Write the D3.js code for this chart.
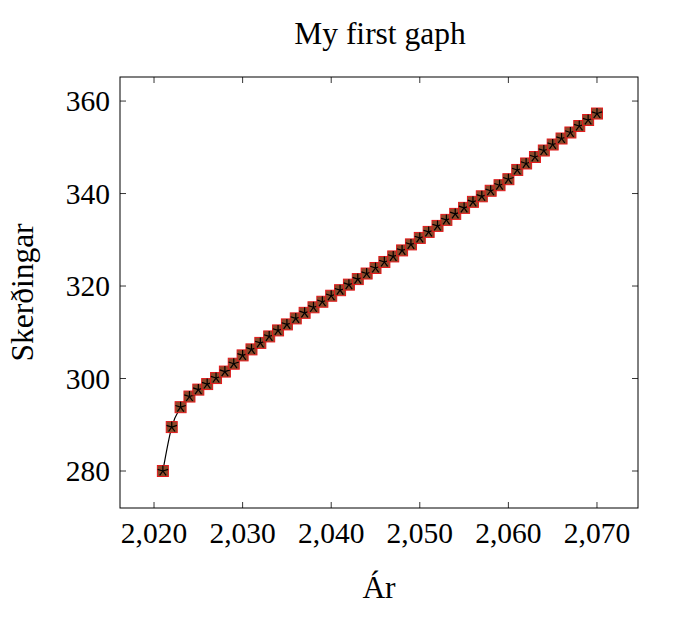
<!DOCTYPE html>
<html><head><meta charset="utf-8">
<script src="https://cdn.jsdelivr.net/npm/d3@7"></script>
<style>body{margin:0;background:#fff}text{font-family:"Liberation Serif","Times New Roman",serif;fill:#000}</style>
</head><body><svg id="c" width="695" height="619"></svg>
<script>
var years = d3.range(2021, 2071);
var values = [280, 289.5, 293.8, 296.1, 297.6, 298.8, 300.1, 301.5, 303.2, 305.0,
  306.3, 307.7, 309.1, 310.4, 311.7, 313.0, 314.2, 315.4, 316.6, 317.9,
  319.1, 320.3, 321.5, 322.7, 323.9, 325.2, 326.4, 327.7, 329.0, 330.4,
  331.7, 333.0, 334.3, 335.6, 336.9, 338.2, 339.4, 340.6, 341.8, 343.1,
  345.1, 346.5, 347.9, 349.3, 350.6, 351.9, 353.2, 354.6, 355.9, 357.3];
var xTicks = [2020, 2030, 2040, 2050, 2060, 2070];
var yTicks = [280, 300, 320, 340, 360];

var svg = d3.select('#c');
var L = 120, R = 638, T = 77, B = 508;
var x = d3.scaleLinear().domain([2016.16, 2074.63]).range([L, R]);
var y = d3.scaleLinear().domain([272.0, 365.2]).range([B, T]);
var fmt = d3.format(',');

// ticks (inward, all four sides)
var g = svg.append('g').attr('stroke', '#000').attr('stroke-width', 0.8);
xTicks.forEach(function(t) {
  g.append('line').attr('x1', x(t)).attr('x2', x(t)).attr('y1', B).attr('y2', B - 6);
  g.append('line').attr('x1', x(t)).attr('x2', x(t)).attr('y1', T).attr('y2', T + 6);
});
yTicks.forEach(function(t) {
  g.append('line').attr('y1', y(t)).attr('y2', y(t)).attr('x1', L).attr('x2', L + 6);
  g.append('line').attr('y1', y(t)).attr('y2', y(t)).attr('x1', R).attr('x2', R - 6);
});
svg.append('rect').attr('x', L).attr('y', T).attr('width', R - L).attr('height', B - T)
  .attr('fill', 'none').attr('stroke', '#000').attr('stroke-width', 1);

svg.selectAll('.xt').data(xTicks).enter().append('text')
  .attr('x', function(d) { return x(d); }).attr('y', B + 35)
  .attr('text-anchor', 'middle').attr('font-size', 29.5).text(function(d) { return fmt(d); });
svg.selectAll('.yt').data(yTicks).enter().append('text')
  .attr('x', L - 10).attr('y', function(d) { return y(d) + 10; })
  .attr('text-anchor', 'end').attr('font-size', 29.5).text(function(d) { return d; });

svg.append('text').attr('x', (L + R) / 2 + 1).attr('y', 44).attr('text-anchor', 'middle')
  .attr('font-size', 31.5).text('My first gaph');
svg.append('text').attr('x', (L + R) / 2).attr('y', 598).attr('text-anchor', 'middle')
  .attr('font-size', 31.5).text('Ár');
svg.append('text').attr('transform', 'translate(33,' + ((T + B) / 2) + ') rotate(-90)')
  .attr('text-anchor', 'middle').attr('font-size', 31.5).text('Skerðingar');

var pts = years.map(function(d, i) { return [x(d), y(values[i])]; });
svg.append('path').attr('d', d3.line().curve(d3.curveMonotoneX)(pts))
  .attr('fill', 'none').attr('stroke', '#000').attr('stroke-width', 1.2);

var m = svg.selectAll('.m').data(pts).enter().append('g')
  .attr('transform', function(d) { return 'translate(' + d[0] + ',' + d[1] + ')'; });
m.append('rect').attr('x', -5.5).attr('y', -5.5).attr('width', 11).attr('height', 11)
  .attr('fill', '#8b4a2b').attr('stroke', '#e41a1c').attr('stroke-width', 1);
m.each(function() {
  var s = d3.select(this);
  for (var k = 0; k < 5; k++) {
    var a = -Math.PI / 2 + k * 2 * Math.PI / 5;
    s.append('line').attr('x1', 0).attr('y1', 0)
      .attr('x2', 5.5 * Math.cos(a)).attr('y2', 5.5 * Math.sin(a))
      .attr('stroke', '#000').attr('stroke-width', 1.2);
  }
});
</script></body></html>
